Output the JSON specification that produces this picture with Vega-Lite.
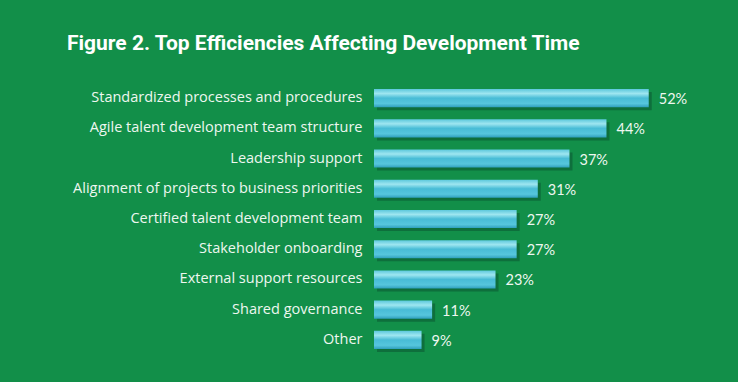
{
  "$schema": "https://vega.github.io/schema/vega-lite/v6.json",
  "autosize": "none",
  "width": 317,
  "height": 272,
  "padding": {"left": 374, "top": 83, "right": 47, "bottom": 27},
  "background": "#128f49",
  "title": {
    "text": "Figure 2. Top Efficiencies Affecting Development Time",
    "anchor": "start",
    "frame": "group",
    "dx": -307,
    "offset": 12,
    "baseline": "alphabetic",
    "font": "Roboto",
    "fontSize": 21,
    "fontWeight": "bold",
    "color": "#ffffff"
  },
  "data": {
    "values": [
      {"item": "Standardized processes and procedures", "pct": 52, "label": "52%"},
      {"item": "Agile talent development team structure", "pct": 44, "label": "44%"},
      {"item": "Leadership support", "pct": 37, "label": "37%"},
      {"item": "Alignment of projects to business priorities", "pct": 31, "label": "31%"},
      {"item": "Certified talent development team", "pct": 27, "label": "27%"},
      {"item": "Stakeholder onboarding", "pct": 27, "label": "27%"},
      {"item": "External support resources", "pct": 23, "label": "23%"},
      {"item": "Shared governance", "pct": 11, "label": "11%"},
      {"item": "Other", "pct": 9, "label": "9%"}
    ]
  },
  "encoding": {
    "y": {
      "field": "item",
      "type": "nominal",
      "sort": null,
      "scale": {"paddingInner": 0.4, "paddingOuter": 0.2},
      "axis": {
        "title": null,
        "domain": false,
        "ticks": false,
        "labelPadding": 12,
        "labelFont": "Open Sans",
        "labelFontSize": 14.5,
        "labelColor": "#eef7f0",
        "labelLimit": 400
      }
    },
    "x": {
      "field": "pct",
      "type": "quantitative",
      "scale": {"domain": [0, 60]},
      "axis": null
    }
  },
  "layer": [
    {
      "mark": {"type": "bar", "fill": "#0b5a33", "opacity": 0.6, "xOffset": 3, "yOffset": 3}
    },
    {
      "mark": {
        "type": "bar",
        "fill": {
          "gradient": "linear",
          "x1": 0, "y1": 0, "x2": 0, "y2": 1,
          "stops": [
            {"offset": 0, "color": "#5cc8dc"},
            {"offset": 0.25, "color": "#9ee6f0"},
            {"offset": 0.5, "color": "#48bcd6"},
            {"offset": 0.8, "color": "#56c6dd"},
            {"offset": 1, "color": "#2f9fbd"}
          ]
        }
      }
    },
    {
      "mark": {"type": "text", "align": "left", "dx": 10, "dy": 2, "font": "Lato", "fontSize": 14.5, "color": "#eef7f0"},
      "encoding": {"text": {"field": "label", "type": "nominal"}}
    }
  ],
  "config": {"view": {"stroke": null}}
}
